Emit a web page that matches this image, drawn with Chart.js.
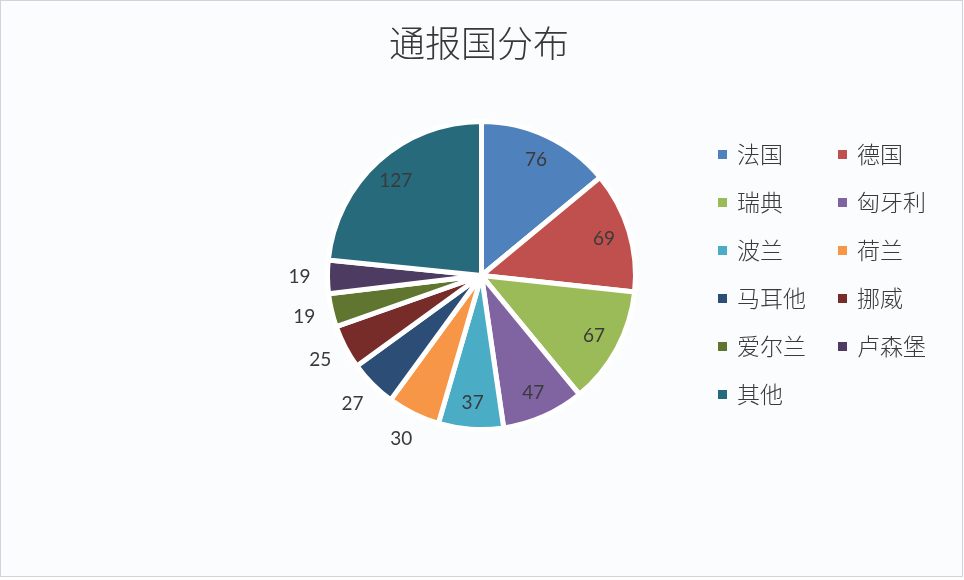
<!DOCTYPE html>
<html>
<head>
<meta charset="utf-8">
<script src="https://cdn.jsdelivr.net/npm/chart.js@4"></script>
<style>
  html, body { margin: 0; padding: 0; background: #ffffff; }
  #frame {
    position: absolute; left: 0; top: 0;
    width: 961px; height: 575px;
    border: 1px solid #cfd4da;
    background: #fafcfd;
  }
  #chart { position: absolute; left: 0; top: 0; }
</style>
</head>
<body>
<div id="frame"></div>
<canvas id="chart" width="964" height="580"></canvas>
<script>
// Data
const countries = ['法国', '德国', '瑞典', '匈牙利', '波兰', '荷兰', '马耳他', '挪威', '爱尔兰', '卢森堡', '其他'];
const counts = [76, 69, 67, 47, 37, 30, 27, 25, 19, 19, 127];
const sliceColors = ['#4f81bd', '#c0504d', '#9bbb59', '#8064a2', '#4bacc6', '#f79646',
                     '#2c4d75', '#772c2a', '#5f7530', '#4d3b62', '#276a7c'];
const titleText = '通报国分布';

const cjkFont = '"Noto Sans CJK SC", "Noto Sans", sans-serif';
const numFont = 'Lato, "Open Sans", sans-serif';

// title drawn by hand so the pie keeps its own box
const titlePlugin = {
    id: 'titleText',
    afterDraw(chart) {
        const ctx = chart.ctx;
        ctx.save();
        ctx.font = '300 36px ' + cjkFont;
        ctx.fillStyle = '#383838';
        ctx.textAlign = 'center';
        ctx.textBaseline = 'middle';
        ctx.fillText(titleText, 479, 43);
        ctx.restore();
    }
};

// value labels: inside for big slices, outside for small ones
const valueLabels = {
    id: 'valueLabels',
    afterDatasetsDraw(chart) {
        const ctx = chart.ctx;
        const arcs = chart.getDatasetMeta(0).data;
        ctx.save();
        ctx.font = '19px ' + numFont;
        ctx.fillStyle = '#3a3a3a';
        ctx.textAlign = 'center';
        ctx.textBaseline = 'middle';
        arcs.forEach((arc, i) => {
            const p = arc.getProps(['x', 'y', 'startAngle', 'endAngle', 'outerRadius'], true);
            const mid = (p.startAngle + p.endAngle) / 2;
            const dist = counts[i] >= 37 ? p.outerRadius * 0.83 : p.outerRadius + 28;
            ctx.fillText(String(counts[i]), p.x + Math.cos(mid) * dist, p.y + Math.sin(mid) * dist);
        });
        ctx.restore();
    }
};

// legend in two columns, filled row by row
const gridLegend = {
    id: 'gridLegend',
    afterDraw(chart) {
        const ctx = chart.ctx;
        ctx.save();
        ctx.font = '300 23px ' + cjkFont;
        ctx.textBaseline = 'middle';
        countries.forEach((name, i) => {
            const col = i % 2;
            const row = Math.floor(i / 2);
            const x = 718 + col * 120;
            const y = 154 + row * 48;
            ctx.fillStyle = sliceColors[i];
            ctx.fillRect(x, y - 4, 9, 9);
            ctx.fillStyle = '#3a3a3a';
            ctx.fillText(name, x + 19, y);
        });
        ctx.restore();
    }
};

new Chart(document.getElementById('chart').getContext('2d'), {
    type: 'pie',
    data: {
        labels: countries,
        datasets: [{
            data: counts,
            backgroundColor: sliceColors,
            borderColor: '#ffffff',
            borderWidth: 5
        }]
    },
    options: {
        responsive: false,
        animation: false,
        layout: { padding: { left: 325, right: 326, top: 119, bottom: 148 } },
        plugins: {
            legend: { display: false },
            title: { display: false },
            tooltip: { enabled: false }
        }
    },
    plugins: [titlePlugin, valueLabels, gridLegend]
});
</script>
</body>
</html>
